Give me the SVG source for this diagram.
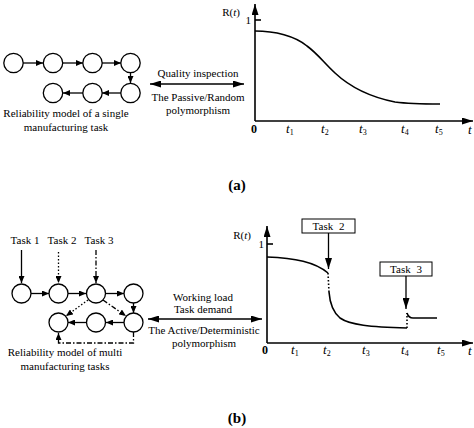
<svg xmlns="http://www.w3.org/2000/svg" width="474" height="428" viewBox="0 0 474 428">
<style>
text{font-family:"Liberation Serif","Times New Roman",serif;fill:#000}
.lb{font-size:11px}
.mid{text-anchor:middle}
.tl{font-size:13px;font-style:italic}
.sub{font-size:8px;font-style:normal}
.node{fill:#fff;stroke:#000;stroke-width:1.3}
.ln{stroke:#000;stroke-width:1.3;fill:none}
.ax{stroke:#000;stroke-width:1.6;fill:none}
.dot{stroke-dasharray:1.5 2}
.dd{stroke-dasharray:5 2 1.5 2}
.cap{font-size:15px;font-weight:bold}
</style>
<defs>
<marker id="ah" markerUnits="userSpaceOnUse" markerWidth="7" markerHeight="6" refX="7" refY="3" orient="auto-start-reverse"><path d="M0,0 L7,3 L0,6 z" fill="#000"/></marker>
<marker id="big" markerUnits="userSpaceOnUse" markerWidth="11" markerHeight="7" refX="11" refY="3.5" orient="auto-start-reverse"><path d="M0,0 L11,3.5 L0,7 z" fill="#000"/></marker>
</defs>

<!-- (a) chain -->
<g id="connectors-a">
<line class="ln" x1="23" y1="63" x2="43" y2="63" marker-end="url(#ah)"/>
<line class="ln" x1="63" y1="63" x2="83" y2="63" marker-end="url(#ah)"/>
<line class="ln" x1="102" y1="63" x2="121" y2="63" marker-end="url(#ah)"/>
<line class="ln" x1="130.5" y1="73" x2="130.5" y2="83" marker-end="url(#ah)"/>
<line class="ln" x1="121" y1="93" x2="102" y2="93" marker-end="url(#ah)"/>
<line class="ln" x1="83" y1="93" x2="63" y2="93" marker-end="url(#ah)"/>
<line class="ln" x1="150" y1="84" x2="244" y2="84" marker-start="url(#big)" marker-end="url(#big)"/>
</g>
<g id="a-n1"><circle class="node" cx="13.5" cy="63" r="9.7"/></g>
<g id="a-n2"><circle class="node" cx="53" cy="63" r="9.7"/></g>
<g id="a-n3"><circle class="node" cx="92.5" cy="63" r="9.7"/></g>
<g id="a-n4"><circle class="node" cx="130.5" cy="63" r="9.7"/></g>
<g id="a-n5"><circle class="node" cx="53" cy="93" r="9.7"/></g>
<g id="a-n6"><circle class="node" cx="92.5" cy="93" r="9.7"/></g>
<g id="a-n7"><circle class="node" cx="130.5" cy="93" r="9.7"/></g>
<g id="a-labels">
<text class="lb mid" x="66" y="117">Reliability model of a single</text>
<text class="lb mid" x="66" y="131">manufacturing task</text>
<text class="lb mid" x="198" y="77">Quality inspection</text>
<text class="lb mid" x="198" y="101">The Passive/Random</text>
<text class="lb mid" x="198" y="114">polymorphism</text>
</g>

<!-- (a) chart -->
<g id="chart-a">
<line class="ax" x1="255" y1="121" x2="255" y2="4" marker-end="url(#big)"/>
<line class="ax" x1="255" y1="121" x2="473" y2="121" marker-end="url(#big)"/>
<line class="ax" x1="255" y1="20" x2="261" y2="20"/>
<text class="lb" x="251" y="24" text-anchor="end">1</text>
<text class="lb" x="240" y="16" text-anchor="end">R(<tspan font-style="italic">t</tspan>)</text>
<path class="ax" d="M255,31 C275,31 295,36 307,46 C318,54 324,63 335,73 C350,87 370,97 395,102 C410,104 425,104 440,104"/>
<text x="251" y="133" style="font-size:12px;font-weight:bold">0</text>
<text class="tl" x="286" y="133">t<tspan class="sub" dy="2">1</tspan></text>
<text class="tl" x="321" y="133">t<tspan class="sub" dy="2">2</tspan></text>
<text class="tl" x="359" y="133">t<tspan class="sub" dy="2">3</tspan></text>
<text class="tl" x="401" y="133">t<tspan class="sub" dy="2">4</tspan></text>
<text class="tl" x="435" y="133">t<tspan class="sub" dy="2">5</tspan></text>
<text class="tl" x="468" y="134">t</text>
</g>
<text class="cap mid" x="237" y="190">(a)</text>

<!-- (b) chain -->
<g id="connectors-b">
<line class="ln" x1="21.5" y1="250" x2="21.5" y2="283" marker-end="url(#ah)"/>
<line class="ln dot" x1="58.5" y1="252" x2="58.5" y2="283" marker-end="url(#ah)"/>
<line class="ln dd" x1="96" y1="250" x2="96" y2="283" marker-end="url(#ah)"/>
<line class="ln" x1="31" y1="293.5" x2="49" y2="293.5" marker-end="url(#ah)"/>
<line class="ln" x1="68" y1="293.5" x2="86" y2="293.5" marker-end="url(#ah)"/>
<line class="ln" x1="106" y1="293.5" x2="124" y2="293.5" marker-end="url(#ah)"/>
<line class="ln" x1="133.5" y1="303" x2="133.5" y2="313" marker-end="url(#ah)"/>
<line class="ln" x1="124" y1="322.5" x2="106" y2="322.5" marker-end="url(#ah)"/>
<line class="ln" x1="86" y1="322.5" x2="68" y2="322.5" marker-end="url(#ah)"/>
<line class="ln dot" x1="88" y1="300" x2="66" y2="316" marker-end="url(#ah)"/>
<line class="ln dd" x1="103" y1="300" x2="126" y2="316" marker-end="url(#ah)"/>
<polyline class="ln dd" points="133.5,332 133.5,343 58.5,343 58.5,333" marker-end="url(#ah)"/>
<line class="ln" x1="148" y1="319" x2="262" y2="319" marker-start="url(#big)" marker-end="url(#big)"/>
</g>
<g id="b-n1"><circle class="node" cx="21.5" cy="293.5" r="9.5"/></g>
<g id="b-n2"><circle class="node" cx="58.5" cy="293.5" r="9.5"/></g>
<g id="b-n3"><circle class="node" cx="96" cy="293.5" r="9.5"/></g>
<g id="b-n4"><circle class="node" cx="133.5" cy="293.5" r="9.5"/></g>
<g id="b-n5"><circle class="node" cx="58.5" cy="322.5" r="9.5"/></g>
<g id="b-n6"><circle class="node" cx="96" cy="322.5" r="9.5"/></g>
<g id="b-n7"><circle class="node" cx="133.5" cy="322.5" r="9.5"/></g>
<g id="b-labels">
<text class="lb mid" x="25" y="244">Task 1</text>
<text class="lb mid" x="62" y="244">Task 2</text>
<text class="lb mid" x="99" y="244">Task 3</text>
<text class="lb mid" x="65" y="356">Reliability model of multi</text>
<text class="lb mid" x="65" y="370">manufacturing tasks</text>
<text class="lb mid" x="203" y="301">Working load</text>
<text class="lb mid" x="203" y="313">Task demand</text>
<text class="lb mid" x="204" y="334">The Active/Deterministic</text>
<text class="lb mid" x="204" y="347">polymorphism</text>
</g>

<!-- (b) chart -->
<g id="chart-b">
<line class="ax" x1="267" y1="343" x2="267" y2="226" marker-end="url(#big)"/>
<line class="ax" x1="267" y1="343" x2="473" y2="343" marker-end="url(#big)"/>
<line class="ax" x1="267" y1="244" x2="273" y2="244"/>
<text class="lb" x="264" y="248" text-anchor="end">1</text>
<text class="lb" x="251" y="239" text-anchor="end">R(<tspan font-style="italic">t</tspan>)</text>
<path class="ax" d="M267,257 C295,258 315,262 328,273"/>
<line class="ax dot" x1="328" y1="273" x2="329" y2="292"/>
<path class="ax" d="M329,292 C330,305 334,313 340,318 C350,325 370,327 407,328"/>
<line class="ax dot" x1="407" y1="328" x2="407" y2="313"/>
<path class="ax" d="M407,313 C408,316 409,318 413,318 L437,318"/>
<text x="262" y="354" style="font-size:12px;font-weight:bold">0</text>
<text class="tl" x="291" y="354">t<tspan class="sub" dy="2">1</tspan></text>
<text class="tl" x="323" y="354">t<tspan class="sub" dy="2">2</tspan></text>
<text class="tl" x="362" y="354">t<tspan class="sub" dy="2">3</tspan></text>
<text class="tl" x="401" y="354">t<tspan class="sub" dy="2">4</tspan></text>
<text class="tl" x="437" y="354">t<tspan class="sub" dy="2">5</tspan></text>
<text class="tl" x="468" y="355">t</text>
</g>
<g id="task2-box">
<rect x="302" y="219" width="53" height="14" fill="#fff" stroke="#000" stroke-width="1"/>
<text class="lb mid" x="328.5" y="230" word-spacing="3">Task 2</text>
</g>
<g id="task3-box">
<rect x="380" y="262" width="52" height="14" fill="#fff" stroke="#000" stroke-width="1"/>
<text class="lb mid" x="406" y="273" word-spacing="3">Task 3</text>
</g>
<g id="connectors-tasks">
<line class="ln" x1="328.5" y1="233" x2="328.5" y2="269" marker-end="url(#big)"/>
<line class="ln" x1="406" y1="276" x2="406" y2="309" marker-end="url(#big)"/>
</g>
<text class="cap mid" x="237" y="423">(b)</text>
</svg>
